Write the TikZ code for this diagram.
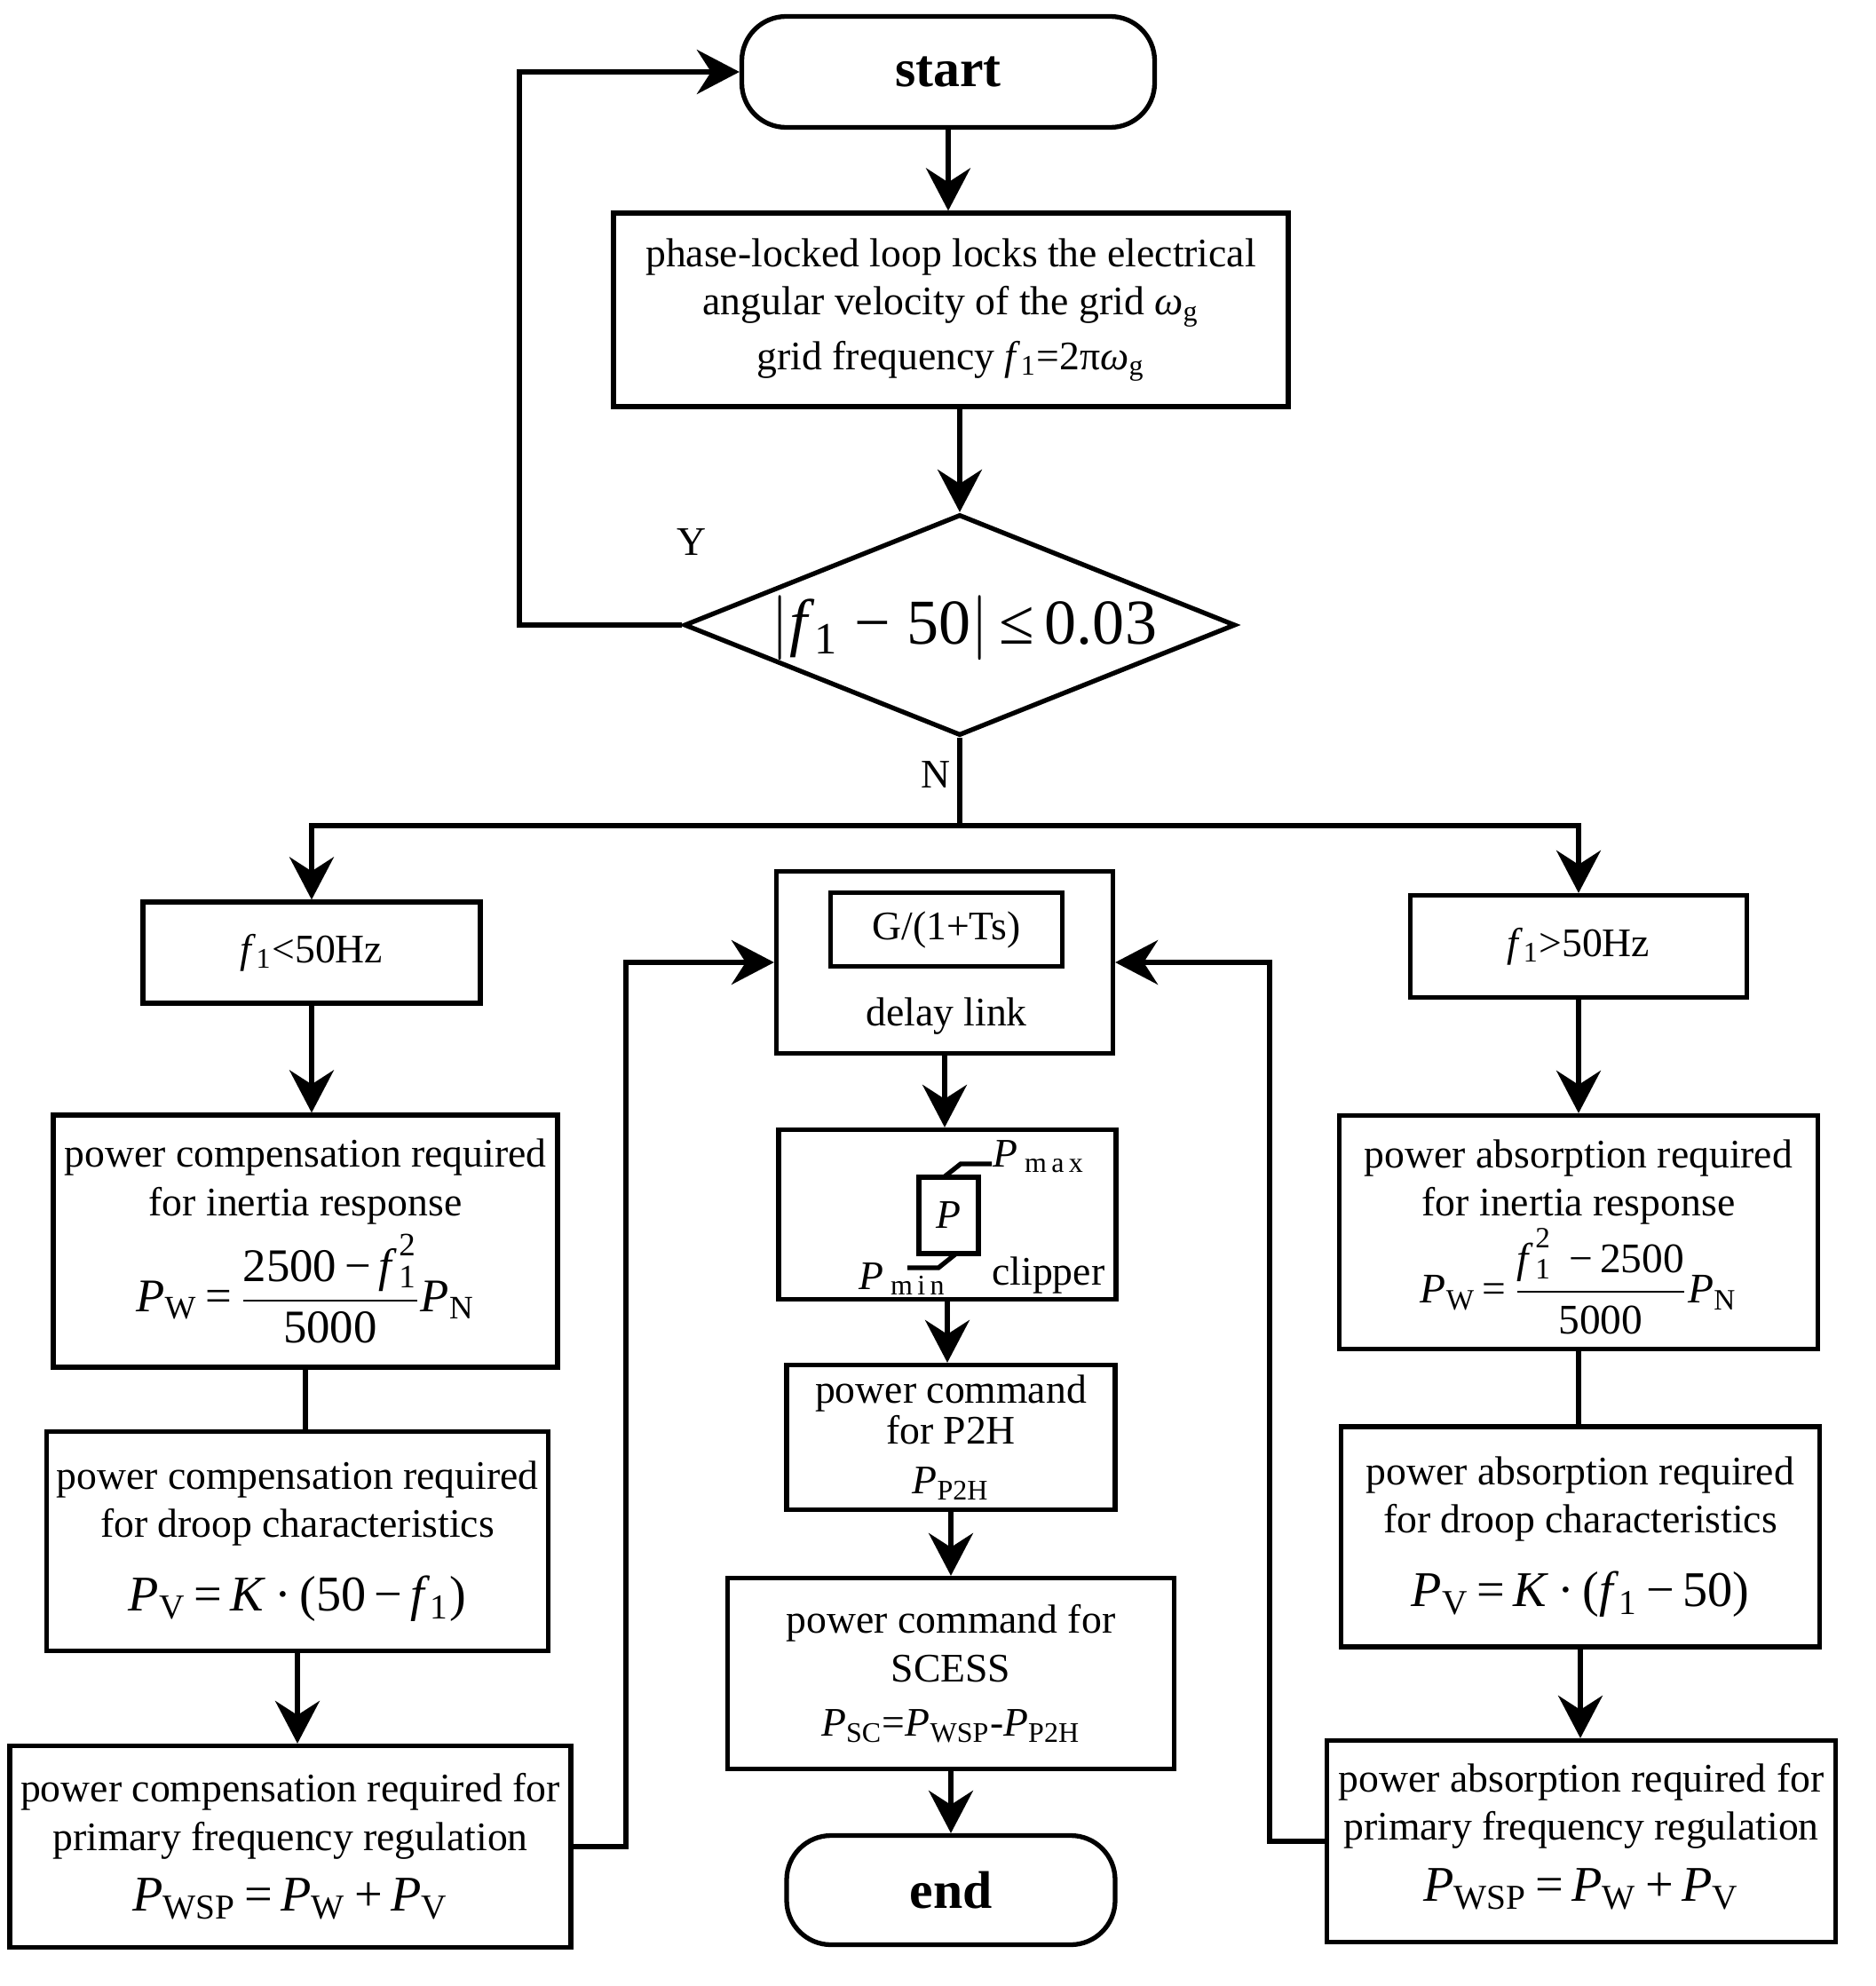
\documentclass[tikz,border=0pt]{standalone}
\usepackage{fontspec}
\setmainfont{Liberation Serif}
\usepackage{amsmath}
\usetikzlibrary{arrows.meta,shapes.geometric}

\newcommand{\psub}[2]{\mbox{\textit{#1}\textsubscript{#2}}}
\newcommand{\fsq}{\mbox{\textit{f}\kern0.04em\rlap{\raisebox{0.45ex}{\textsuperscript{2}}}\textsubscript{1}}}
\newcommand{\fnorm}{\fontsize{13}{15.5}\selectfont}
\newcommand{\fbig}{\fontsize{16}{19}\selectfont}

\tikzset{
    wire/.style={line width=1.5pt},
    arr/.style={wire, -{Stealth[length=0.48cm,width=0.5cm,inset=0.16cm]}},
    box/.style={draw, line width=1.5pt, inner sep=0pt, align=center, font=\fnorm},
    term/.style={box, rounded corners=0.5cm, font=\fontsize{17}{20}\selectfont\bfseries},
    lbl/.style={inner sep=0pt, font=\fnorm}
}

\begin{document}
\begin{tikzpicture}
        \useasboundingbox (0,0) rectangle (21.13,-22.37);

        % Top of the chart
        \node[term, minimum width=4.65cm, minimum height=1.25cm] (start) at (10.68,-0.81) {start};
        \node[box, minimum width=7.60cm, minimum height=2.18cm] (pll) at (10.71,-3.49)
            {phase-locked loop locks the electrical\\ angular velocity of the grid \psub{ω}{g}\\[2pt] grid frequency \psub{f}{1}=2π\psub{ω}{g}};
        \node[box, diamond, minimum width=6.21cm, minimum height=2.49cm] (dec) at (10.81,-7.04) {};
        \node[lbl, font=\fontsize{20.5}{24}\selectfont] (dectext) at (10.86,-7.07)
            {\(\left|\text{\psub{f}{1} − 50}\right|\)\,≤\,0.03};
        \node[lbl] (ylbl) at (7.79,-6.11) {Y};
        \node[lbl] (nlbl) at (10.54,-8.73) {N};
        \coordinate (yturn) at (5.85,-0.81);
        \coordinate (split) at (10.81,-9.30);

        % Left column: f1 below 50 Hz
        \node[box, minimum width=3.80cm, minimum height=1.14cm] (low) at (3.51,-10.73) {\psub{f}{1}<50Hz};
        \node[box, minimum width=5.68cm, minimum height=2.84cm] (lin) at (3.44,-13.98)
            {power compensation required\\ for inertia response\\[2pt] {\fontsize{15}{18}\selectfont \psub{P}{W}\,=\,\(\dfrac{\text{2500\,−\,\fsq}}{\text{5000}}\)\psub{P}{N}}};
        \node[box, minimum width=5.65cm, minimum height=2.47cm] (ldr) at (3.35,-17.36)
            {power compensation required\\ for droop characteristics\\[8pt] {\fbig \psub{P}{V}\,=\,\textit{K}\,·\,(50\,−\,\psub{f}{1})}};
        \node[box, minimum width=6.32cm, minimum height=2.27cm] (lpr) at (3.27,-20.80)
            {power compensation required for\\ primary frequency regulation\\[4pt] {\fbig \psub{P}{WSP}\,=\,\psub{P}{W}\,+\,\psub{P}{V}}};
        \coordinate (lturn) at (7.05,-10.84);

        % Middle column
        \node[box, minimum width=3.79cm, minimum height=2.05cm] (delay) at (10.64,-10.84) {};
        \node[box, minimum width=2.61cm, minimum height=0.83cm] (tf) at (10.66,-10.47) {G/(1+Ts)};
        \node[lbl] (dlabel) at (10.66,-11.45) {delay link};
        \node[box, minimum width=3.80cm, minimum height=1.91cm] (clip) at (10.67,-13.68) {};
        \node[box, minimum width=0.67cm, minimum height=0.86cm, font=\fnorm\itshape] (clipP) at (10.685,-13.69) {P};
        \draw[wire] (10.63,-13.26) -- (10.82,-13.11) -- (11.17,-13.11);
        \draw[wire] (10.77,-14.12) -- (10.57,-14.28) -- (10.22,-14.28);
        \node[lbl, anchor=base west] (pmax) at (11.18,-13.14) {\textit{P}\,\textsubscript{m\,a\,x}};
        \node[lbl, anchor=base west] (pmin) at (9.67,-14.52) {\textit{P}\,\textsubscript{m\,i\,n}};
        \node[lbl, anchor=base east] (cliplbl) at (12.45,-14.47) {clipper};
        \node[box, minimum width=3.70cm, minimum height=1.63cm, font=\fontsize{13}{13}\selectfont] (p2h) at (10.71,-16.19)
            {power command\\ for P2H\\[3pt] \psub{P}{P2H}};
        \node[box, minimum width=5.03cm, minimum height=2.15cm] (scess) at (10.71,-18.85)
            {power command for\\ SCESS\\[2pt] \psub{P}{SC}=\psub{P}{WSP}-\psub{P}{P2H}};
        \node[term, minimum width=3.70cm, minimum height=1.23cm] (finish) at (10.71,-21.29) {end};

        % Right column: f1 above 50 Hz
        \node[box, minimum width=3.79cm, minimum height=1.15cm] (high) at (17.78,-10.66) {\psub{f}{1}>50Hz};
        \node[box, minimum width=5.39cm, minimum height=2.63cm] (rin) at (17.78,-13.88)
            {\rule{0pt}{12pt}power absorption required\\ for inertia response\\[0pt] {\fontsize{13.5}{16}\selectfont \psub{P}{W}\,=\,\(\dfrac{\text{\fsq\ \,−\,2500}}{\text{5000}}\)\psub{P}{N}}};
        \node[box, minimum width=5.39cm, minimum height=2.48cm] (rdr) at (17.80,-17.31)
            {power absorption required\\ for droop characteristics\\[8pt] {\fbig \psub{P}{V}\,=\,\textit{K}\,·\,(\psub{f}{1}\,−\,50)}};
        \node[box, minimum width=5.73cm, minimum height=2.27cm] (rpr) at (17.81,-20.74)
            {power absorption required for\\ primary frequency regulation\\[4pt] {\fbig \psub{P}{WSP}\,=\,\psub{P}{W}\,+\,\psub{P}{V}}\rule[-6pt]{0pt}{0pt}};
        \coordinate (rturn) at (14.30,-10.84);

        % Connectors
        \draw[arr] (start.south) -- (start.south |- pll.north);
        \draw[arr] (dec.north |- pll.south) -- (dec.north);
        \draw[arr] (dec.west) -| (yturn) -- (start.west);
        \draw[wire] (dec.south) -- (split);
        \draw[arr] (split) -| (low.north);
        \draw[arr] (split) -| (high.north);

        \draw[arr] (low.south) -- (low.south |- lin.north);
        \draw[wire] (lin.south) -- (lin.south |- ldr.north);
        \draw[arr] (ldr.south) -- (ldr.south |- lpr.north);
        \draw[arr] (lpr.east) -| (lturn) -- (delay.west);

        \draw[arr] (delay.south) -- (delay.south |- clip.north);
        \draw[arr] (clip.south) -- (clip.south |- p2h.north);
        \draw[arr] (p2h.south) -- (p2h.south |- scess.north);
        \draw[arr] (scess.south) -- (scess.south |- finish.north);

        \draw[arr] (high.south) -- (high.south |- rin.north);
        \draw[wire] (rin.south) -- (rin.south |- rdr.north);
        \draw[arr] (rdr.south) -- (rdr.south |- rpr.north);
        \draw[arr] (rpr.west) -| (rturn) -- (delay.east);
    \end{tikzpicture}
\end{document}
